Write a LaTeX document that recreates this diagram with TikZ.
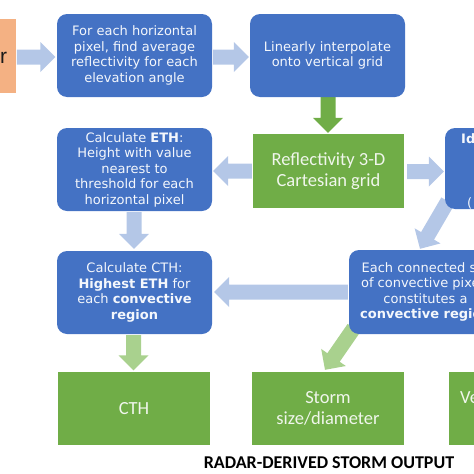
\documentclass[tikz,border=0pt]{standalone}
\usepackage{fontspec}
\setmainfont{DejaVu Sans}
\newfontfamily\carlito{Carlito}
\newfontfamily\arialish{Liberation Sans}
\usetikzlibrary{calc}
\definecolor{cblue}{HTML}{4472C4}
\definecolor{cgreen}{HTML}{70AD47}
\definecolor{corange}{HTML}{F4B183}
\definecolor{alblue}{HTML}{B4C7E7}
\definecolor{algreen}{HTML}{A9D18E}
\definecolor{btext}{HTML}{F4F7FC}
\definecolor{gtext}{HTML}{F0F6EC}
\pgfdeclarelayer{bg}
\pgfsetlayers{bg,main}
% block arrow: #1 style, #2 start, #3 tip
\newcommand\blockarrow[3]{%
  \fill[#1] let \p1=(#2), \p2=(#3), \n1={atan2(\y2-\y1,\x2-\x1)} in
    ($(\p1)+(\n1+90:7.5pt)$) --
    ($(\p2)+(\n1:-15pt)+(\n1+90:7.5pt)$) --
    ($(\p2)+(\n1:-15pt)+(\n1+90:15pt)$) --
    (\p2) --
    ($(\p2)+(\n1:-15pt)+(\n1-90:15pt)$) --
    ($(\p2)+(\n1:-15pt)+(\n1-90:7.5pt)$) --
    ($(\p1)+(\n1-90:7.5pt)$) -- cycle;}
\begin{document}
\begin{tikzpicture}[x=1pt,y=-1pt,
  bluebox/.style={fill=cblue, rounded corners=10pt, minimum width=155pt,
    minimum height=83pt, text=btext, align=center, inner sep=0pt,
    font=\fontsize{13}{15.5}\selectfont},
  greenbox/.style={fill=cgreen, minimum width=152pt, minimum height=73pt,
    text=gtext, align=center, inner sep=0pt,
    font=\carlito\fontsize{18.5}{20.5}\selectfont},
  frag/.style={anchor=west, inner sep=0pt},
  lb/.style={fill=alblue},
  lg/.style={fill=algreen},
  dg/.style={fill=cgreen}]
\useasboundingbox (0,0) rectangle (474,474);
\clip (0,0) rectangle (474,474);

% input box (cropped)
\node[fill=corange, minimum width=56pt, minimum height=74pt, inner sep=0pt] (or) at (-12.3,56) {};
\node[frag, text=black!90, font=\arialish\fontsize{21}{24}\selectfont] (ort) at (0,58) {r};

% blue process boxes
\node[bluebox] (b1) at (134.5,55.5) {For each horizontal\\pixel, find average\\reflectivity for each\\elevation angle};
\node[bluebox] (b2) at (327.5,55.5) {Linearly interpolate\\onto vertical grid};
\node[bluebox] (b3) at (134.5,169.5) {Calculate \textbf{ETH}:\\Height with value\\nearest to\\threshold for each\\horizontal pixel};
\node[bluebox, minimum height=81pt] (b4) at (522.5,168.5) {};
\node[frag, text=btext, font=\bfseries\fontsize{13}{15.5}\selectfont] (b4a) at (461,139) {Id};
\node[frag, text=btext, font=\fontsize{13}{15.5}\selectfont] (b4b) at (467,203) {(};
\node[bluebox, minimum width=153pt, minimum height=84pt] (b5) at (425.5,292) {Each connected set\\of convective pixels\\constitutes a\\\textbf{convective region}};
\node[bluebox] (b6) at (134.5,292.5) {Calculate CTH:\\\textbf{Highest ETH} for\\each \textbf{convective}\\\textbf{region}};

% green boxes
\node[greenbox, minimum width=151pt, minimum height=74pt] (g1) at (328.5,171) {Reflectivity 3-D\\Cartesian grid};
\node[greenbox] (g2) at (134,408.5) {CTH};
\node[greenbox] (g3) at (328,408.5) {Storm\\size/diameter};
\node[greenbox] (g4) at (525,408.5) {};
\node[frag, text=gtext, font=\carlito\fontsize{18.5}{20.5}\selectfont] (g4a) at (460,398) {Ve};

% title
\node[font=\carlito\bfseries\fontsize{18}{20}\selectfont, text=black] (title) at (329,463) {RADAR-DERIVED STORM OUTPUT};

% arrows
\begin{pgfonlayer}{bg}
\blockarrow{lb}{$(or.east)+(1,1)$}{$(b1.west)+(-1.5,1.5)$}
\blockarrow{lb}{$(b1.east)+(1,1.5)$}{$(b2.west)+(-1,1.5)$}
\blockarrow{dg}{$(b2.south)+(0.5,0)$}{$(g1.north)+(-0.5,-1)$}
\blockarrow{lb}{$(g1.east)+(3,0.5)$}{$(b4.west |- g1.east)+(-1,0.5)$}
\blockarrow{lb}{$(g1.west)+(-1,0)$}{$(b3.east |- g1.west)+(1,0)$}
\blockarrow{lb}{$(b4.south west)+(3,-8)$}{$(b5.north)+(-5.5,-1)$}
\blockarrow{lb}{$(b5.west)+(-1,0)$}{$(b6.east |- b5.west)+(2,0)$}
\blockarrow{lb}{$(b3.south)+(-0.5,1)$}{$(b6.north)+(-0.5,-2)$}
\blockarrow{lg}{$(b6.south)+(-1,1)$}{$(g2.north)+(-0.5,-1.5)$}
\blockarrow{lg}{$(b5.south west)+(5,-6)$}{$(g3.north)+(-3,-2)$}
\end{pgfonlayer}
\end{tikzpicture}
\end{document}
